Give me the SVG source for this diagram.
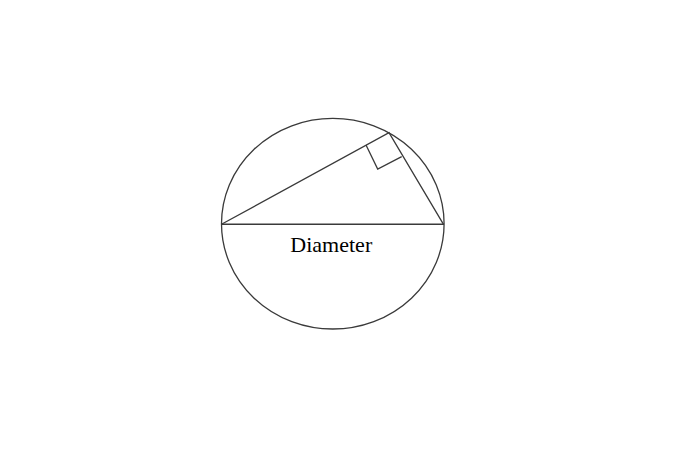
<svg xmlns="http://www.w3.org/2000/svg" width="675" height="450" viewBox="0 0 675 450">
<style>
.ln{fill:none;stroke:#3a3a3a;stroke-width:1.3;stroke-linejoin:miter}
.lbl{font-family:"Liberation Serif","Times New Roman",serif;font-size:22px;fill:#000}
</style>
<rect width="675" height="450" fill="#fff"/>
<g id="circle">
<ellipse class="ln" cx="332.8" cy="223.7" rx="111.3" ry="105.3"/>
</g>
<g id="connectors">
<line class="ln" x1="221.5" y1="224.3" x2="444" y2="224.3" style="stroke-width:1.6"/>
<polyline class="ln" points="221.5,224.3 389,132.7 443.5,224.3"/>
<polyline class="ln" points="366,145 377.7,169 401.7,156.7"/>
</g>
<g id="label">
<text class="lbl" x="331.3" y="251.5" text-anchor="middle">Diameter</text>
</g>
</svg>
